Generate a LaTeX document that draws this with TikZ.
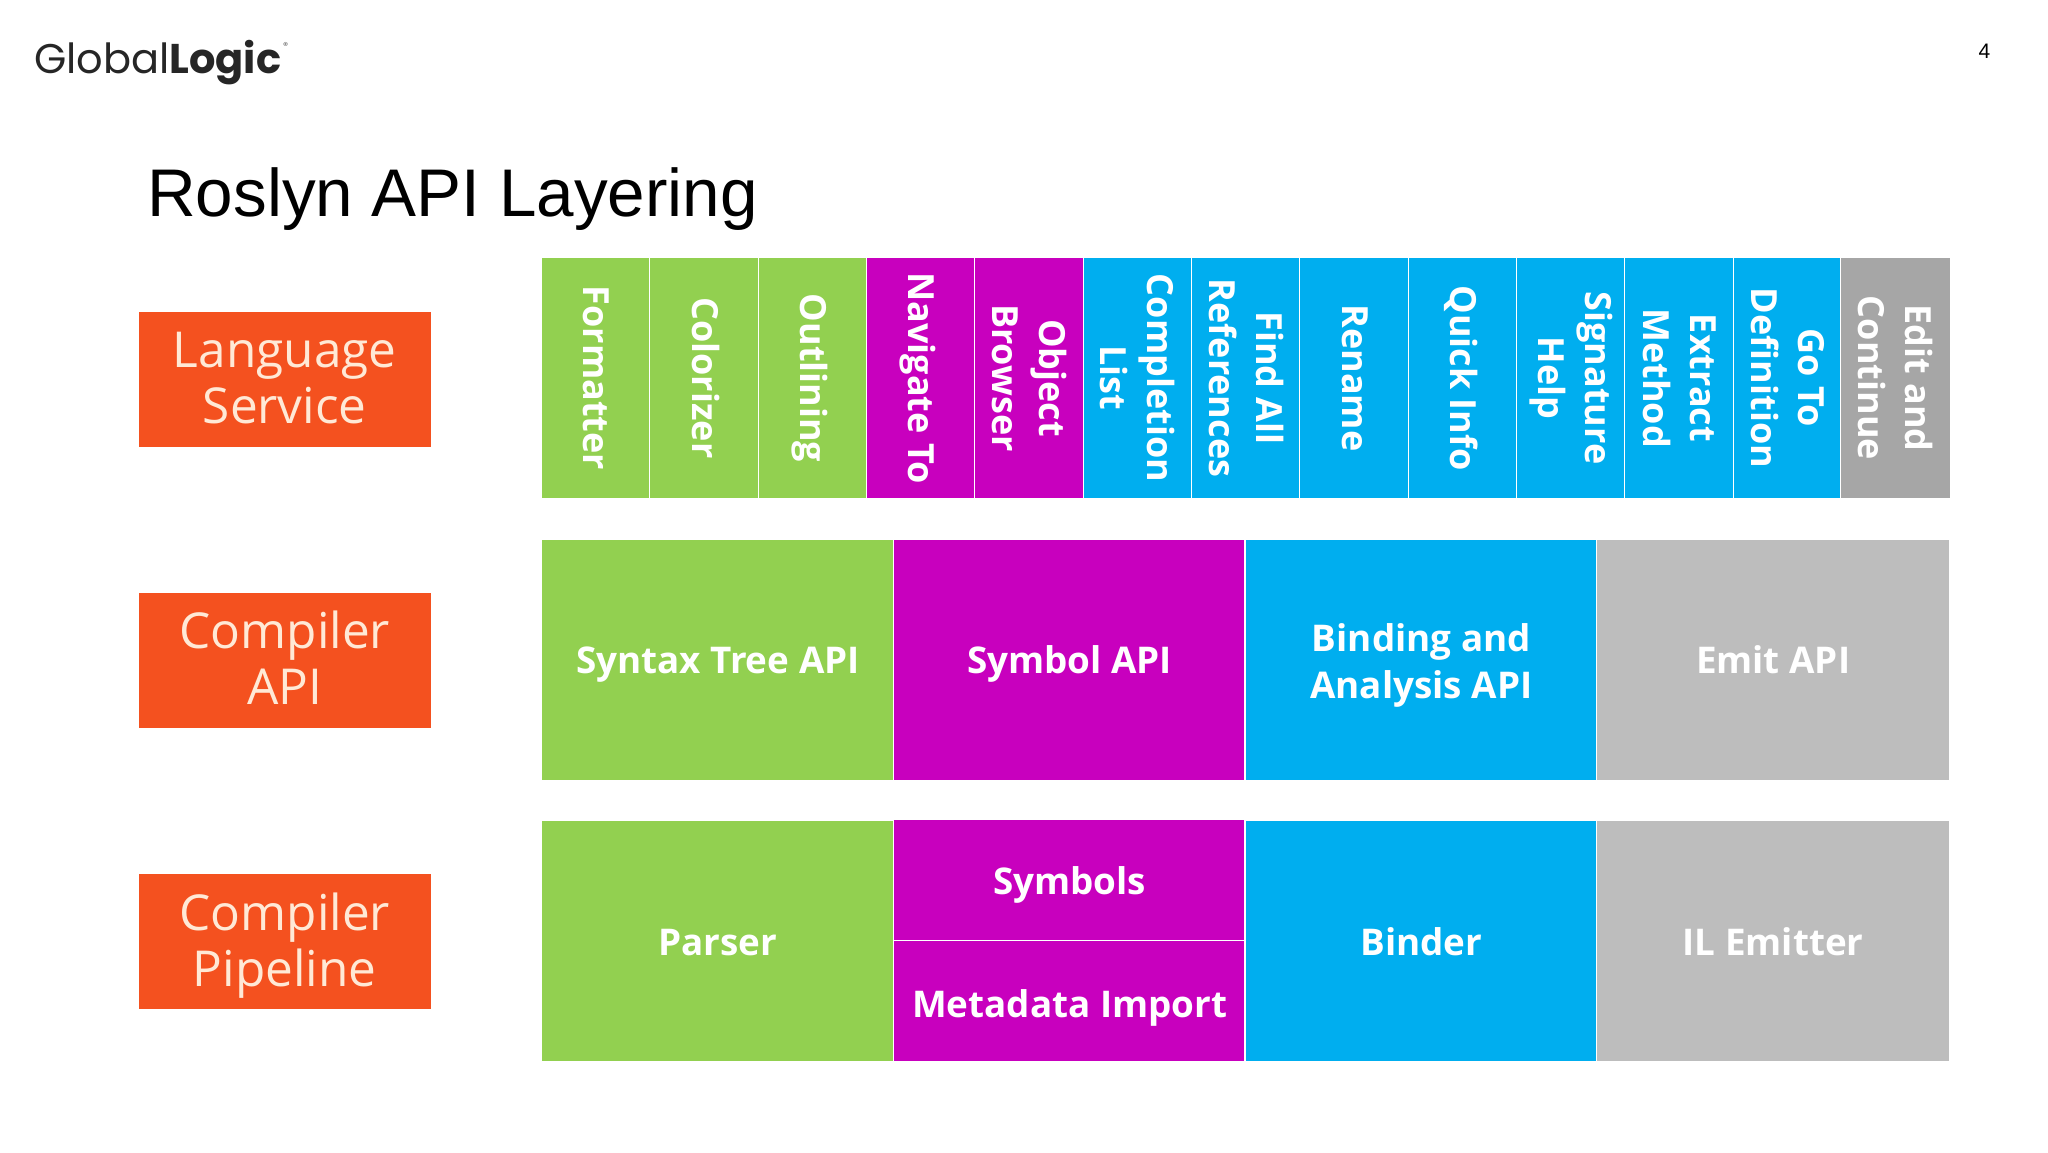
\documentclass[tikz,border=0pt]{standalone}
\usepackage{fontspec}
\setmainfont{Open Sans}
\newfontfamily\titlef{Liberation Sans}
\newfontfamily\logof{Poppins}
\definecolor{cgreen}{HTML}{92D050}
\definecolor{cmag}{HTML}{C800BE}
\definecolor{cblue}{HTML}{00AEEF}
\definecolor{cgrey}{HTML}{BDBDBD}
\definecolor{cdgrey}{HTML}{A6A6A6}
\definecolor{corange}{HTML}{F4511F}
\definecolor{ccream}{HTML}{FFE9D6}
\tikzset{
  x=1pt,y=-1pt,
  lay/.style={rectangle,fill=corange,minimum width=292.5pt,minimum height=135pt,inner sep=0pt,
    text=ccream,align=center,font=\fontsize{49.5}{56}\selectfont,text depth=0pt},
  cell/.style={rectangle,draw=white,line width=1.2pt,inner sep=0pt,text=white,align=center,
    font=\bfseries\fontsize{36.8}{47.5}\selectfont},
  vc/.style={cell,rotate=-90,minimum width=242pt,minimum height=109.3pt,
    font=\bfseries\fontsize{36}{47}\selectfont},
  vone/.style={vc,text height=25pt,text depth=0pt},
  hc/.style={cell,minimum width=352.75pt,minimum height=242pt,text height=28pt,text depth=0pt},
  hs/.style={cell,minimum width=352.75pt,minimum height=121pt,text height=29pt,text depth=0pt},
}
\begin{document}
\begin{tikzpicture}
\useasboundingbox (0,0) rectangle (2048,1152);
\node[anchor=west,inner sep=0pt,font=\logof\fontsize{41.5}{50}\selectfont,text=black!85] (logo) at (34,62.5) {Global\textbf{Logic}};
\node[anchor=west,inner sep=0pt,font=\logof\fontsize{10}{12}\selectfont,text=black!60] (reg) at (283,46) {®};
\node[inner sep=0pt,font=\titlef\fontsize{21}{25}\selectfont] (pg) at (1984.5,51) {4};
\node[anchor=base west,inner sep=0pt,font=\titlef\fontsize{67.4}{80}\selectfont] (title) at (147,216) {Roslyn API Layering};
\node[lay,text height=87pt] (l1) at (284.75,379.5) {Language\\Service};
\node[lay,text height=88pt] (l2) at (284.75,660.5) {Compiler\\API};
\node[lay,text height=91pt] (l3) at (284.75,941) {Compiler\\Pipeline};
% top row
\node[vone,fill=cgreen] (t1) at (596.2,378) {Formatter};
\node[vone,fill=cgreen] (t2) at (704.5,378) {Colorizer};
\node[vone,fill=cgreen] (t3) at (812.8,378) {Outlining};
\node[vone,fill=cmag] (t4) at (921.2,378) {Navigate To};
\node[vc,fill=cmag] (t5) at (1029.5,378) {Object\\Browser};
\node[vc,fill=cblue] (t6) at (1137.8,378) {Completion\\List};
\node[vc,fill=cblue] (t7) at (1246.2,378) {Find All\\References};
\node[vone,fill=cblue] (t8) at (1354.5,378) {Rename};
\node[vone,fill=cblue] (t9) at (1462.8,378) {Quick Info};
\node[vc,fill=cblue] (t10) at (1571.2,378) {Signature\\Help};
\node[vc,fill=cblue] (t11) at (1679.5,378) {Extract\\Method};
\node[vc,fill=cblue] (t12) at (1787.8,378) {Go To\\Definition};
\node[vc,fill=cdgrey] (t13) at (1895.5,378) {Edit and\\Continue};
% middle row
\node[hc,fill=cgreen,text height=26pt] (m1) at (717.9,660) {Syntax Tree API};
\node[hc,fill=cmag,text height=26pt] (m2) at (1069.6,660) {Symbol API};
\node[hc,fill=cblue,text height=77pt] (m3) at (1421.4,660) {Binding and\\Analysis API};
\node[hc,fill=cgrey,text height=26pt] (m4) at (1773.1,660) {Emit API};
% bottom row
\node[hc,fill=cgreen] (b1) at (717.9,941) {Parser};
\node[hs,fill=cmag] (b2) at (1069.6,880.2) {Symbols};
\node[hs,fill=cmag,text height=32pt] (b3) at (1069.6,1001) {Metadata Import};
\node[hc,fill=cblue] (b4) at (1421.4,941) {Binder};
\node[hc,fill=cgrey] (b5) at (1773.1,941) {IL Emitter};
\end{tikzpicture}
\end{document}
